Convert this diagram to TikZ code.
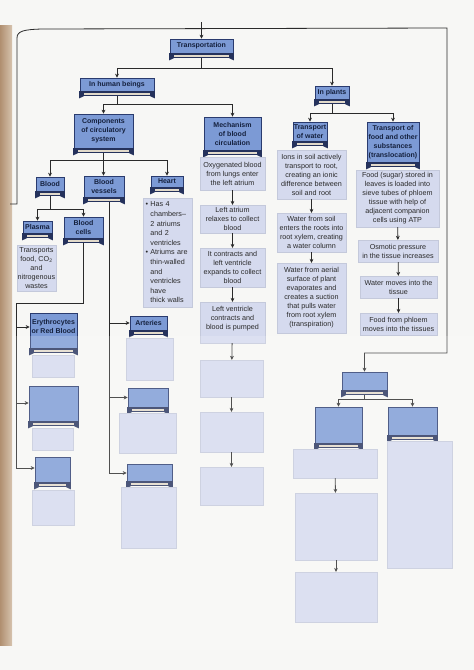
\documentclass[tikz,border=0pt]{standalone}
\usepackage{fontspec}
\setmainfont{Liberation Sans}
\usetikzlibrary{arrows.meta}
\definecolor{hdrblue}{HTML}{7C9AD5}
\definecolor{hdrline}{HTML}{2A3B6E}
\definecolor{bandc}{HTML}{25325C}
\definecolor{bandlight}{HTML}{E2DACA}
\definecolor{cont}{HTML}{D5DAEE}
\definecolor{ink}{HTML}{2A2A2A}
\definecolor{hdrtext}{HTML}{15213E}
\definecolor{pagec}{HTML}{F7F7F5}
\definecolor{tanA}{HTML}{B08F70}
\definecolor{tanB}{HTML}{D6C3AE}
\newcommand\hdrfont{\fontsize{7}{9}\selectfont\bfseries}
\newcommand\cfont{\fontsize{7.2}{9}\selectfont}
\newcommand\heartfont{\fontsize{7.2}{9.6}\selectfont}
\tikzset{
  hdr/.style={draw=hdrline, line width=0.6pt, fill=hdrblue, inner sep=0pt, align=center, font=\hdrfont, text=hdrtext},
  cbox/.style={fill=cont, draw=cont!92!black, line width=0.3pt, inner sep=0pt, align=center, font=\cfont, text=ink},
  ln/.style={draw=ink, line width=0.8pt},
  arr/.style={draw=ink, line width=0.8pt, -{Stealth[length=4pt,width=3.8pt]}}
}
\newcommand\ribbon[1]{%
  \fill[bandc] ([xshift=-0.5pt]#1.south west) rectangle ([xshift=0.5pt,yshift=-5pt]#1.south east);
  \fill[bandlight] ([xshift=4pt,yshift=-1.3pt]#1.south west) rectangle ([xshift=-4pt,yshift=-3.4pt]#1.south east);
  \fill[bandc] ([xshift=-0.5pt]#1.south west) -- ([xshift=-0.5pt,yshift=-7pt]#1.south west) -- ([xshift=4pt,yshift=-5pt]#1.south west) -- cycle;
  \fill[bandc] ([xshift=0.5pt]#1.south east) -- ([xshift=0.5pt,yshift=-7pt]#1.south east) -- ([xshift=-4pt,yshift=-5pt]#1.south east) -- cycle;}
\newcommand\mkhdr[6]{\node[hdr, minimum width={(#4-#2)*1pt}, minimum height={(#5-#3)*1pt}] (#1) at ({(#2+#4)/2},{(#3+#5)/2}) {#6};\ribbon{#1}}
\newcommand\mkbox[6]{\node[cbox, minimum width={(#4-#2)*1pt}, minimum height={(#5-#3)*1pt}] (#1) at ({(#2+#4)/2},{(#3+#5)/2}) {#6};}
\begin{document}
\begin{tikzpicture}[x=1pt,y=-1pt]
\useasboundingbox (0,0) rectangle (474,670);
\fill[pagec] (0,0) rectangle (474,670);
\shade[left color=tanA, right color=tanB] (0,25) rectangle (12,645);

% ---------- header boxes ----------
\mkhdr{tr}{170}{39}{233}{53}{Transportation}
\mkhdr{hb}{80}{78}{154}{91}{In human beings}
\mkhdr{pl}{315}{86}{349}{99}{In plants}
\mkhdr{comp}{74}{114}{133}{148}{Components\\of circulatory\\system}
\mkhdr{mech}{204}{117}{261}{150}{Mechanism\\of blood\\circulation}
\mkhdr{tw}{293}{122}{327}{141}{Transport\\of water}
\mkhdr{tf}{367}{122}{419}{162}{Transport of\\food and other\\substances\\(translocation)}
\mkhdr{blood}{36}{177}{64}{191}{Blood}
\mkhdr{bv}{84}{176}{124}{197}{Blood\\vessels}
\mkhdr{heart}{151}{176}{183}{187}{Heart}
\mkhdr{plasma}{23}{221}{52}{233}{Plasma}
\mkhdr{bc}{64}{217}{103}{238}{Blood\\cells}
\mkhdr{ery}{30}{313}{77}{348}{Erythrocytes\\or Red Blood\\\phantom{X}}
\mkhdr{wbc}{29}{386}{78}{421}{}
\mkhdr{plt}{35}{457}{70}{482}{}
\mkhdr{art}{130}{316}{167}{330}{Arteries}
\mkhdr{vein}{128}{388}{168}{407}{}
\mkhdr{cap}{127}{464}{172}{481}{}
\mkhdr{bh}{342}{372}{387}{390}{}
\mkhdr{bl}{315}{407}{362}{443}{}
\mkhdr{br}{388}{407}{437}{435}{}

% ---------- content boxes ----------
\mkbox{plc}{17}{245}{56}{291}{Transports\\food, CO\textsubscript{2}\\and\\nitrogenous\\wastes}
\node[cbox, align=left, font=\heartfont, text width=44pt, minimum width=49pt, minimum height=109pt] (hc) at (167.5,252.5) {%
\textbullet\ Has 4\\
\phantom{\textbullet\ }chambers–\\
\phantom{\textbullet\ }2 atriums\\
\phantom{\textbullet\ }and 2\\
\phantom{\textbullet\ }ventricles\\
\textbullet\ Atriums are\\
\phantom{\textbullet\ }thin-walled\\
\phantom{\textbullet\ }and\\
\phantom{\textbullet\ }ventricles\\
\phantom{\textbullet\ }have\\
\phantom{\textbullet\ }thick walls};
\mkbox{m1}{200}{157}{265}{190}{Oxygenated blood\\from lungs enter\\the left atrium}
\mkbox{m2}{200}{205}{265}{233}{Left atrium\\relaxes to collect\\blood}
\mkbox{m3}{200}{248}{265}{287}{It contracts and\\left ventricle\\expands to collect\\blood}
\mkbox{m4}{200}{302}{265}{343}{Left ventricle\\contracts and\\blood is pumped\\\phantom{X}}
\mkbox{m5}{200}{360}{263}{397}{}
\mkbox{m6}{200}{412}{263}{452}{}
\mkbox{m7}{200}{467}{263}{505}{}
\mkbox{w1}{277}{150}{346}{199}{Ions in soil actively\\transport to root,\\creating an ionic\\difference between\\soil and root}
\mkbox{w2}{277}{213}{346}{252}{Water from soil\\enters the roots into\\root xylem, creating\\a water column}
\mkbox{w3}{277}{263}{346}{333}{Water from aerial\\surface of plant\\evaporates and\\creates a suction\\that pulls water\\from root xylem\\(transpiration)}
\mkbox{f1}{356}{170}{439}{227}{Food (sugar) stored in\\leaves is loaded into\\sieve tubes of phloem\\tissue with help of\\adjacent companion\\cells using ATP}
\mkbox{f2}{358}{240}{438}{262}{Osmotic pressure\\in the tissue increases}
\mkbox{f3}{360}{276}{437}{298}{Water moves into the\\tissue}
\mkbox{f4}{360}{313}{437}{335}{Food from phloem\\moves into the tissues}
\mkbox{erc}{32}{355}{74}{377}{}
\mkbox{wbcc}{32}{428}{73}{450}{}
\mkbox{pltc}{32}{490}{74}{525}{}
\mkbox{artc}{126}{338}{173}{380}{}
\mkbox{veinc}{119}{413}{176}{453}{}
\mkbox{capc}{121}{487}{176}{548}{}
\mkbox{bl1}{293}{449}{377}{478}{}
\mkbox{bl2}{295}{493}{377}{560}{}
\mkbox{bl3}{295}{572}{377}{622}{}
\mkbox{brc}{387}{441}{452}{568}{}

% ---------- frame / return connector ----------
\coordinate (fa) at (10,204);
\coordinate (fb) at (17,204);
\coordinate (fd) at (447,28);
\coordinate (fe) at (447,353);
\coordinate (ff) at (364.5,353);
\draw[arr] (fa) -- (fb) -- (17,38) .. controls (17,31) and (24,29.5) .. (42,29) -- (fd) -- (fe) -- (ff) -- (bh.north);
\coordinate (ftop) at (201.5,22);
\draw[arr] (ftop) -- (tr.north);

% ---------- junctions ----------
\coordinate (j1) at (201.5,68);
\draw[ln] ([yshift=-5pt]tr.south) -- (j1);
\draw[arr] (j1) -| (hb.north);
\draw[arr] (j1) -| (pl.north);

\coordinate (j2) at (117,104);
\draw[ln] ([yshift=-5pt]hb.south) -- (j2);
\draw[arr] (j2) -| (comp.north);
\draw[arr] (j2) -| (mech.north);

\coordinate (j3) at (332,113);
\draw[ln] ([yshift=-5pt]pl.south) -- (j3);
\draw[arr] (j3) -| (tw.north);
\draw[arr] (j3) -| (tf.north);

\coordinate (j4) at (103.5,160);
\draw[ln] ([yshift=-5pt]comp.south) -- (j4);
\draw[arr] (j4) -| (blood.north);
\draw[arr] (j4) -- (j4 |- bv.north);
\draw[arr] (j4) -| (heart.north);

\coordinate (j5) at (50,209);
\draw[ln] ([yshift=-5pt]blood.south) -- (j5);
\draw[arr] (j5) -| (plasma.north);
\draw[arr] (j5) -| (bc.north);

% blood cells branch
\coordinate (k1) at (83.5,303);
\coordinate (k2) at (16,303);
\coordinate (k3) at (16,327);
\coordinate (k4) at (16,403);
\coordinate (k5) at (16,468);
\draw[arr] ([yshift=-5pt]bc.south) -- (k1) -- (k2) -- (k5) -- (k5 -| plt.west);
\draw[arr] (k3) -- (k3 -| ery.west);
\draw[arr] (k4) -- (k4 -| wbc.west);

% blood vessels branch
\coordinate (v1) at (109,323);
\coordinate (v2) at (109,397.5);
\coordinate (v3) at (109,473);
\draw[arr] ([xshift=5pt,yshift=-5pt]bv.south) -- (v3) -- (v3 -| cap.west);
\draw[arr] (v1) -- (v1 -| art.west);
\draw[arr] (v2) -- (v2 -| vein.west);

% mechanism column
\draw[arr] (m1) -- (m2);
\draw[arr] (m2) -- (m3);
\draw[arr] (m3) -- (m4);
\draw[arr] (m4) -- (m5);
\draw[arr] (m5) -- (m6);
\draw[arr] (m6) -- (m7);

% plants columns
\draw[arr] (w1) -- (w2);
\draw[arr] (w2) -- (w3);
\draw[arr] (f1) -- (f2);
\draw[arr] (f2) -- (f3);
\draw[arr] (f3) -- (f4);

% bottom right
\coordinate (j6) at (364.5,399);
\draw[ln] ([yshift=-5pt]bh.south) -- (j6);
\draw[arr] (j6) -| (bl.north);
\draw[arr] (j6) -| (br.north);
\draw[arr] (bl1) -- (bl2);
\draw[arr] (bl2) -- (bl3);

% washed-out lower part of the photo
\fill[white, opacity=0.18] (12,336) rectangle (474,650);
\end{tikzpicture}
\end{document}
